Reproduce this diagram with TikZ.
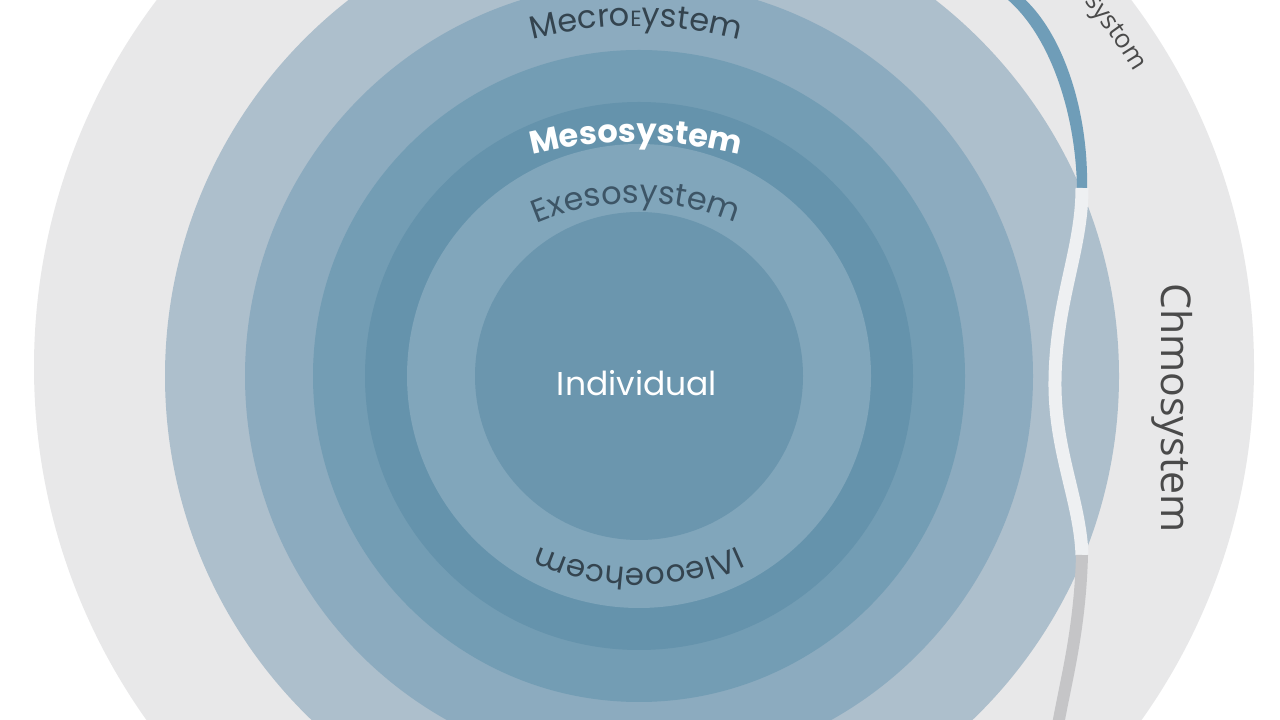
\documentclass[tikz,border=0pt]{standalone}
\usepackage{fontspec}
\setmainfont{Poppins}
\newfontfamily\opensans{Open Sans}
\newfontfamily\dejavu{DejaVu Sans}
\usetikzlibrary{decorations.text}

\newcommand\labelsize[1]{\fontsize{#1}{#1}\selectfont}

\definecolor{chronocol}{HTML}{E8E8E9}
\definecolor{macrocol}{HTML}{ADBFCC}
\definecolor{exocol}{HTML}{8CABBF}
\definecolor{mesocol}{HTML}{739DB4}
\definecolor{microcol}{HTML}{6593AC}
\definecolor{bandcol}{HTML}{81A6BB}
\definecolor{indivcol}{HTML}{6B96AE}
\definecolor{strandblue}{HTML}{6F9DB8}
\definecolor{strandwhite}{HTML}{EEF0F2}
\definecolor{strandgray}{HTML}{C5C5C7}
\definecolor{darklabel}{HTML}{34444F}
\definecolor{exolabel}{HTML}{3D5566}
\definecolor{chronotext}{HTML}{4A4A4A}

\tikzset{
  arclabel/.style={decorate, decoration={text along path, text align=center, #1}},
}

\begin{document}
\begin{tikzpicture}[x=1pt, y=1pt]
\useasboundingbox (0,0) rectangle (1280,720);
\clip (0,0) rectangle (1280,720);
\fill[white] (0,0) rectangle (1280,720);

\coordinate (c) at (639,344);

% rings, outside in
\fill[chronocol] (644,353) circle (610);
\fill[macrocol] (642,344) circle (477);
\fill[exocol] (c) circle (394);
\fill[mesocol] (c) circle (326);
\fill[microcol] (c) circle (274);
\fill[bandcol] (c) circle (232);
\fill[indivcol] (c) circle (164);

% strand on the right
\fill[strandblue] (1020,725) .. controls (1062,690) and (1089,610) .. (1087,530)
  -- (1077,530) .. controls (1076,610) and (1048,690) .. (1002,725) -- cycle;
\draw[strandwhite, line width=13] (1082,532) .. controls (1082,470) and (1056,420) .. (1055,340)
  .. controls (1054,270) and (1080,220) .. (1082,165);
\draw[strandgray, line width=12] (1082,165) .. controls (1080,90) and (1066,40) .. (1058,-5);

% labels
\path[arclabel={text color=darklabel,
  text={|\labelsize{32}|Mecro|\labelsize{22}|E|\labelsize{32}|ystem}}]
  ([shift={(636,294)}]125:400) arc (125:55:400);
\path[arclabel={text color=white,
  text={|\labelsize{32}\bfseries|Mesosystem}}]
  ([shift={(636,156)}]110:422) arc (110:70:422);
\path[arclabel={text color=exolabel,
  text={|\labelsize{32}|Exesosystem}}]
  ([shift={(636,264)}]135:253) arc (135:45:253);
\path[arclabel={text color=darklabel,
  text={|\labelsize{31}|I|\labelsize{31}\dejavu|Λ|\labelsize{31}\rmfamily|leooehcem}}]
  ([shift={(638,387)}]-30:235) arc (-30:-150:235);
\path[decorate, decoration={text along path, text align=right, text color=chronotext,
  text={|\opensans\labelsize{26}|systom}}]
  ([shift={(644,353)}]70:572) arc (70:31:572);

\node[font=\labelsize{33}, text=white] (indiv) at (637,337) {Individual};
\node[rotate=-90, font=\opensans\labelsize{41}, text=chronotext] (chrono) at (1172,312) {Chmosystem};
\end{tikzpicture}
\end{document}
